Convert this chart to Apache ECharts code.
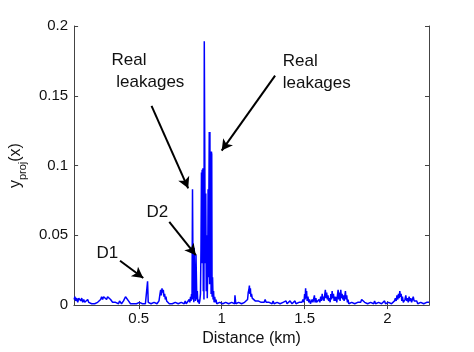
<!DOCTYPE html>
<html>
<head>
<meta charset="utf-8">
<script src="https://cdn.jsdelivr.net/npm/echarts@6/dist/echarts.min.js"></script>
<style>
  html, body { margin: 0; padding: 0; background: #fff; }
  #chart { width: 474px; height: 352px; }
</style>
</head>
<body>
<div id="chart"></div>
<script>
// distance along the pipe (km)
var distance = [
  0.110, 0.115, 0.120, 0.126, 0.132, 0.138, 0.144, 0.150, 0.156, 0.162, 0.168, 0.174, 0.180, 0.186, 0.192, 0.198,
  0.204, 0.210, 0.216, 0.222, 0.228, 0.234, 0.240, 0.246, 0.252, 0.258, 0.264, 0.270, 0.276, 0.282, 0.288, 0.294,
  0.300, 0.306, 0.312, 0.318, 0.324, 0.330, 0.336, 0.342, 0.348, 0.354, 0.360, 0.366, 0.372, 0.378, 0.384, 0.390,
  0.396, 0.402, 0.408, 0.414, 0.420, 0.426, 0.432, 0.438, 0.444, 0.450, 0.456, 0.462, 0.468, 0.474, 0.480, 0.486,
  0.492, 0.498, 0.504, 0.510, 0.516, 0.522, 0.528, 0.534, 0.540, 0.546, 0.551, 0.553, 0.555, 0.557, 0.562, 0.568,
  0.574, 0.580, 0.586, 0.592, 0.598, 0.604, 0.610, 0.616, 0.622, 0.628, 0.632, 0.636, 0.640, 0.644, 0.648, 0.652,
  0.656, 0.660, 0.664, 0.668, 0.672, 0.678, 0.684, 0.690, 0.696, 0.702, 0.708, 0.714, 0.720, 0.726, 0.732, 0.738,
  0.744, 0.750, 0.756, 0.762, 0.768, 0.774, 0.780, 0.786, 0.792, 0.798,
  0.804, 0.808, 0.812, 0.815, 0.818, 0.821, 0.824, 0.826, 0.828, 0.830, 0.832, 0.834, 0.836, 0.838, 0.840, 0.842,
  0.845, 0.848, 0.850, 0.853, 0.856, 0.860, 0.864, 0.868, 0.872, 0.875, 0.878, 0.880, 0.882, 0.885, 0.887, 0.889,
  0.891, 0.893, 0.895, 0.899, 0.901, 0.904, 0.907, 0.910, 0.913, 0.916, 0.918, 0.920, 0.923, 0.925, 0.927, 0.929,
  0.931, 0.934, 0.936, 0.938, 0.940, 0.942, 0.945, 0.948, 0.951, 0.954, 0.958, 0.962, 0.966, 0.970,
  0.976, 0.982, 0.988, 0.994, 1.000, 1.006, 1.012, 1.018, 1.024, 1.030, 1.036, 1.042, 1.048, 1.054, 1.060, 1.066,
  1.072, 1.078, 1.080, 1.082, 1.085, 1.090, 1.096, 1.102, 1.108, 1.114, 1.120, 1.126, 1.132, 1.138, 1.144, 1.150,
  1.156, 1.160, 1.164, 1.167, 1.170, 1.173, 1.176, 1.180, 1.184, 1.188, 1.192, 1.196, 1.202, 1.208, 1.214, 1.220,
  1.226, 1.232, 1.238, 1.244, 1.250, 1.256, 1.262, 1.268, 1.274, 1.280, 1.286, 1.292, 1.298, 1.304, 1.310, 1.316,
  1.322, 1.328, 1.334, 1.340, 1.346, 1.352, 1.358, 1.364, 1.370, 1.376, 1.382, 1.388, 1.394, 1.400, 1.406, 1.412,
  1.418, 1.424, 1.430, 1.436, 1.442, 1.448, 1.454, 1.460, 1.466, 1.472, 1.478, 1.484, 1.490, 1.496, 1.500, 1.503,
  1.506, 1.509, 1.512, 1.515, 1.520, 1.525, 1.530, 1.535, 1.540, 1.545, 1.550, 1.555, 1.559, 1.563, 1.568, 1.572,
  1.577, 1.582, 1.587, 1.592, 1.597, 1.602, 1.606, 1.609, 1.613, 1.617, 1.621, 1.625, 1.629, 1.633, 1.637, 1.641,
  1.645, 1.650, 1.654, 1.658, 1.662, 1.666, 1.670, 1.674, 1.678, 1.682, 1.686, 1.690, 1.694, 1.698, 1.702, 1.706,
  1.710, 1.714, 1.718, 1.722, 1.726, 1.730, 1.734, 1.738, 1.742, 1.746, 1.750, 1.754, 1.758, 1.762, 1.766, 1.772,
  1.778, 1.784, 1.790, 1.796, 1.802, 1.808, 1.814, 1.820, 1.826, 1.832, 1.838, 1.844, 1.850, 1.856, 1.862, 1.868,
  1.874, 1.880, 1.886, 1.892, 1.898, 1.904, 1.910, 1.916, 1.922, 1.928, 1.934, 1.940, 1.946, 1.952, 1.958, 1.964,
  1.970, 1.976, 1.982, 1.988, 1.994, 2.000, 2.006, 2.012, 2.018, 2.024, 2.030, 2.036, 2.042, 2.047, 2.052, 2.057,
  2.062, 2.066, 2.070, 2.074, 2.078, 2.082, 2.086, 2.090, 2.095, 2.100, 2.105, 2.110, 2.115, 2.120, 2.125, 2.130,
  2.135, 2.140, 2.145, 2.150, 2.155, 2.160, 2.165, 2.170, 2.176, 2.182, 2.188, 2.194, 2.200, 2.206, 2.212, 2.218,
  2.224, 2.230, 2.236, 2.242, 2.250
];

// y_proj(x)
var yproj = [
  0.004, 0.006, 0.003, 0.005, 0.002, 0.005, 0.004, 0.003, 0.005, 0.002, 0.004, 0.002, 0.003, 0.001, 0.004, 0.002,
  0.001, 0.002, 0.001, 0.002, 0.001, 0.001, 0.002, 0.001, 0.002, 0.001, 0.003, 0.004, 0.006, 0.004, 0.006, 0.005,
  0.006, 0.004, 0.006, 0.005, 0.006, 0.004, 0.005, 0.002, 0.003, 0.001, 0.002, 0.001, 0.002, 0.001, 0.003, 0.002,
  0.001, 0.002, 0.003, 0.004, 0.006, 0.007, 0.005, 0.003, 0.002, 0.001, 0.001, 0.002, 0.001, 0.001, 0.002, 0.001,
  0.002, 0.001, 0.002, 0.001, 0.002, 0.001, 0.002, 0.002, 0.001, 0.002, 0.001, 0.017, 0.017, 0.002, 0.001, 0.002,
  0.001, 0.002, 0.001, 0.002, 0.001, 0.002, 0.001, 0.002, 0.003, 0.008, 0.011, 0.007, 0.012, 0.009, 0.011, 0.006,
  0.008, 0.004, 0.006, 0.003, 0.004, 0.002, 0.001, 0.002, 0.001, 0.001, 0.002, 0.001, 0.002, 0.001, 0.002, 0.001,
  0.002, 0.001, 0.002, 0.001, 0.002, 0.001, 0.003, 0.001, 0.002, 0.001,
  0.004, 0.002, 0.006, 0.003, 0.008, 0.004, 0.083, 0.083, 0.004, 0.010, 0.002, 0.041, 0.041, 0.005, 0.012, 0.003,
  0.036, 0.036, 0.004, 0.010, 0.002, 0.004, 0.001, 0.003, 0.008, 0.040, 0.095, 0.030, 0.097, 0.060, 0.098, 0.010,
  0.080, 0.004, 0.189, 0.189, 0.030, 0.080, 0.010, 0.050, 0.005, 0.030, 0.083, 0.020, 0.083, 0.124, 0.015, 0.124,
  0.030, 0.110, 0.008, 0.110, 0.108, 0.006, 0.020, 0.004, 0.010, 0.002, 0.006, 0.002, 0.004, 0.001,
  0.002, 0.001, 0.002, 0.001, 0.002, 0.001, 0.002, 0.001, 0.002, 0.001, 0.002, 0.001, 0.002, 0.001, 0.002, 0.001,
  0.002, 0.001, 0.007, 0.007, 0.001, 0.002, 0.001, 0.002, 0.001, 0.002, 0.001, 0.002, 0.001, 0.002, 0.003, 0.002,
  0.004, 0.009, 0.011, 0.014, 0.008, 0.012, 0.006, 0.008, 0.005, 0.006, 0.004, 0.005, 0.003, 0.004, 0.002, 0.003,
  0.002, 0.004, 0.002, 0.001, 0.003, 0.002, 0.004, 0.002, 0.001, 0.003, 0.002, 0.001, 0.002, 0.001, 0.003, 0.001,
  0.002, 0.001, 0.002, 0.001, 0.002, 0.001, 0.002, 0.001, 0.002, 0.001, 0.002, 0.003, 0.001, 0.002, 0.001, 0.003,
  0.002, 0.001, 0.002, 0.001, 0.003, 0.001, 0.002, 0.001, 0.002, 0.001, 0.003, 0.002, 0.004, 0.002, 0.008, 0.004,
  0.012, 0.005, 0.010, 0.003, 0.006, 0.002, 0.004, 0.001, 0.002, 0.004, 0.002, 0.003, 0.007, 0.002, 0.005, 0.002,
  0.003, 0.001, 0.004, 0.002, 0.006, 0.003, 0.008, 0.004, 0.006, 0.003, 0.007, 0.011, 0.005, 0.009, 0.004, 0.007,
  0.003, 0.005, 0.002, 0.008, 0.004, 0.010, 0.005, 0.008, 0.003, 0.006, 0.003, 0.006, 0.002, 0.007, 0.011, 0.004,
  0.009, 0.003, 0.011, 0.005, 0.008, 0.004, 0.007, 0.003, 0.006, 0.010, 0.004, 0.007, 0.002, 0.004, 0.001, 0.002,
  0.001, 0.002, 0.001, 0.003, 0.001, 0.002, 0.001, 0.002, 0.001, 0.002, 0.002, 0.004, 0.003, 0.004, 0.002, 0.001,
  0.002, 0.001, 0.002, 0.001, 0.002, 0.001, 0.002, 0.001, 0.003, 0.001, 0.002, 0.001, 0.002, 0.001, 0.002, 0.001,
  0.002, 0.001, 0.003, 0.001, 0.002, 0.001, 0.002, 0.001, 0.002, 0.001, 0.002, 0.002, 0.003, 0.005, 0.003, 0.007,
  0.004, 0.008, 0.005, 0.010, 0.006, 0.008, 0.003, 0.006, 0.002, 0.003, 0.004, 0.007, 0.003, 0.005, 0.002, 0.006,
  0.003, 0.005, 0.002, 0.004, 0.006, 0.003, 0.004, 0.002, 0.003, 0.001, 0.002, 0.001, 0.002, 0.001, 0.002, 0.001,
  0.002, 0.001, 0.002, 0.001, 0.002
];

var xTicks = [0.5, 1, 1.5, 2];

// annotation text and arrows, in data units
var notes = [
  { text: 'Real\n leakages', at: [0.336, 0.1832] },
  { text: 'Real\nleakages', at: [1.368, 0.1825] },
  { text: 'D2', at: [0.547, 0.0744] },
  { text: 'D1', at: [0.245, 0.0449] }
];
var arrows = [
  [[0.577, 0.1427], [0.798, 0.0837]],
  [[1.322, 0.1644], [1.000, 0.1107]],
  [[0.684, 0.0596], [0.844, 0.0358]],
  [[0.387, 0.0318], [0.527, 0.0194]]
];

var points = distance.map(function (d, i) { return [d, yproj[i]]; });

var axisColor = '#444';
var font = 'Arial, "Liberation Sans", sans-serif';

var chart = echarts.init(document.getElementById('chart'));
chart.setOption({
  animation: false,
  grid: { left: 69, right: 45, top: 26, bottom: 41 },
  xAxis: [{
    type: 'value', min: 0.11, max: 2.25,
    name: 'Distance (km)', nameLocation: 'middle', nameGap: 21,
    nameTextStyle: { fontSize: 16, color: '#111', fontFamily: font },
    axisLine: { lineStyle: { color: axisColor } },
    axisTick: { inside: true, length: 4, customValues: xTicks, lineStyle: { color: axisColor } },
    axisLabel: { customValues: xTicks, fontSize: 15, color: '#111', margin: 6, fontFamily: font },
    splitLine: { show: false }
  }, {
    type: 'value', min: 0.11, max: 2.25, position: 'top',
    axisLine: { show: true, lineStyle: { color: axisColor } },
    axisTick: { inside: true, length: 4, customValues: xTicks, lineStyle: { color: axisColor } },
    axisLabel: { show: false },
    splitLine: { show: false }
  }],
  yAxis: [{
    type: 'value', min: 0, max: 0.2, interval: 0.05,
    name: '{a|y}{b|proj}{a|(x)}', nameLocation: 'middle', nameGap: 46,
    nameTextStyle: {
      color: '#111', fontFamily: font,
      rich: {
        a: { fontSize: 16, lineHeight: 24, verticalAlign: 'middle', color: '#111', fontFamily: font },
        b: { fontSize: 11, lineHeight: 12, verticalAlign: 'bottom', color: '#111', fontFamily: font }
      }
    },
    axisLine: { show: true, lineStyle: { color: axisColor } },
    axisTick: { show: true, inside: true, length: 4, lineStyle: { color: axisColor } },
    axisLabel: { fontSize: 15, color: '#111', margin: 6, fontFamily: font },
    splitLine: { show: false }
  }, {
    type: 'value', min: 0, max: 0.2, interval: 0.05, position: 'right',
    axisLine: { show: true, lineStyle: { color: axisColor } },
    axisTick: { show: true, inside: true, length: 4, lineStyle: { color: axisColor } },
    axisLabel: { show: false },
    splitLine: { show: false }
  }],
  series: [{
    type: 'line',
    data: points,
    showSymbol: false,
    lineStyle: { color: '#0000ff', width: 1.5 },
    itemStyle: { color: '#0000ff' },
    markLine: {
      silent: true,
      symbol: ['none', 'arrow'],
      symbolSize: [9, 11],
      label: { show: false },
      lineStyle: { color: '#000', width: 2, type: 'solid' },
      data: arrows.map(function (a) { return [{ coord: a[0] }, { coord: a[1] }]; })
    },
    markPoint: {
      silent: true,
      symbol: 'circle',
      symbolSize: 0,
      data: notes.map(function (n) {
        return {
          coord: n.at,
          label: {
            show: true, formatter: n.text, position: [0, 0],
            align: 'left', verticalAlign: 'top',
            fontSize: 17, lineHeight: 22, color: '#111', fontFamily: font
          }
        };
      })
    }
  }]
});
</script>
</body>
</html>
